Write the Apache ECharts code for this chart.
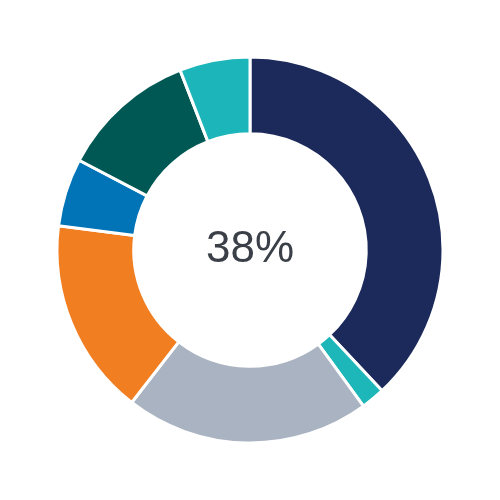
<!DOCTYPE html>
<html><head><meta charset="utf-8">
<script src="https://cdn.jsdelivr.net/npm/echarts@6/dist/echarts.min.js"></script>
<style>html,body{margin:0;padding:0;background:#fff}#c{width:500px;height:500px}</style>
</head><body><div id="c"></div>
<script>
const categories = ['A','B','C','D','E','F','G'];
const values = [38, 2, 20.5, 16.5, 5.7, 11.4, 5.9];
const colors = ['#1b2a5a','#1db7b9','#a9b3c1','#f27e22','#0074b6','#005854','#1cb5b9'];
const centerLabel = '38%';
const chart = echarts.init(document.getElementById('c'), null, {renderer:'canvas'});
chart.setOption({
  animation:false,
  graphic:[{type:'text',left:'center',top:'middle',style:{text:centerLabel,fontSize:44,fontFamily:'Liberation Sans, Arial, sans-serif',fill:'#3b4048'}}],
  series:[{
    type:'pie',
    radius:['46.5%','77.2%'],
    center:['50%','50%'],
    startAngle:90,
    clockwise:true,
    label:{show:false},
    labelLine:{show:false},
    emphasis:{disabled:true},
    itemStyle:{borderColor:'#fff',borderWidth:3},
    data:categories.map((c,i)=>({name:c,value:values[i],itemStyle:{color:colors[i]}}))
  }]
});
</script></body></html>
